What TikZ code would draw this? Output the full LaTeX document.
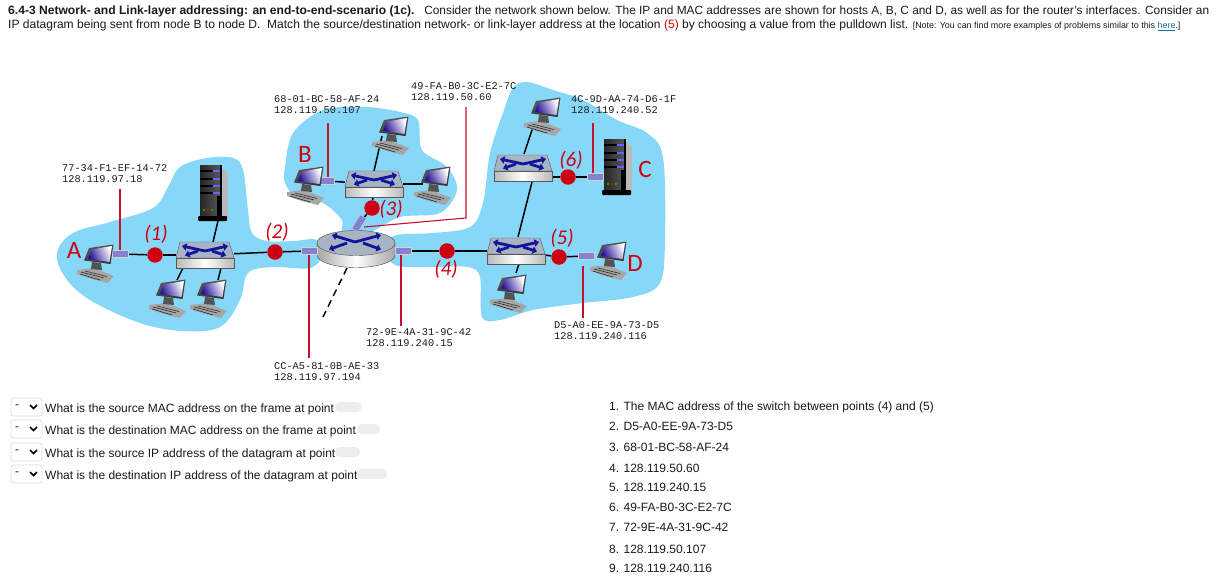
\documentclass[tikz,border=0pt]{standalone}
\usepackage{fontspec}
\setmainfont{Liberation Sans}
\newfontfamily\addrfont{Liberation Mono}
\newfontfamily\calfont{Carlito}
\usetikzlibrary{arrows.meta,calc,shapes.geometric}
\pgfdeclarelayer{bg}
\pgfsetlayers{bg,main}
\definecolor{cloudblue}{HTML}{87D8F8}
\definecolor{navyx}{HTML}{14149A}
\definecolor{redmark}{HTML}{CC0011}
\definecolor{redline}{HTML}{C8102E}
\definecolor{txt}{HTML}{1A1A1A}
\definecolor{linkblue}{HTML}{1A6FA8}
\definecolor{devtop}{HTML}{A8B4C4}
\definecolor{portedge}{HTML}{8282D2}
\tikzset{
  x=1pt,y=-1pt,
  cloud/.style={fill=cloudblue,draw=none},
  hostbox/.style={rectangle,minimum width=34pt,minimum height=36pt,inner sep=0pt},
  switchbox/.style={rectangle,minimum width=58pt,minimum height=26pt,inner sep=0pt},
  routerbox/.style={rectangle,minimum width=78pt,minimum height=37pt,inner sep=0pt},
  serverbox/.style={rectangle,minimum width=28pt,minimum height=56pt,inner sep=0pt},
  portbox/.style={rectangle,minimum width=16pt,minimum height=7pt,inner sep=0pt,top color=portedge,middle color=white,bottom color=portedge,draw=gray!35,line width=.3pt},
  dotmark/.style={circle,fill=redmark,minimum size=15.5pt,inner sep=0pt},
  link/.style={line width=1.5pt,black},
  dashlink/.style={line width=1.5pt,black,dash pattern=on 7pt off 5pt},
  leader/.style={line width=1.1pt,redline},
  addr/.style={font=\addrfont\fontsize{10.3}{10.8}\selectfont,text=txt,align=left,anchor=west,inner sep=0pt},
  ptlabel/.style={font=\calfont\itshape\fontsize{21}{21}\selectfont,text=redmark,inner sep=0pt},
  hostname/.style={font=\calfont\fontsize{25}{25}\selectfont,text=redmark,inner sep=0pt},
  qtext/.style={font=\fontsize{12}{14}\selectfont,text=txt,anchor=base west,inner sep=0pt},
  selbox/.style={rectangle,rounded corners=2.5pt,draw=gray!25,fill=white,line width=.7pt,minimum width=31pt,minimum height=18pt,inner sep=0pt},
  seldash/.style={font=\fontsize{12}{14}\selectfont,text=txt,inner sep=0pt},
  blob/.style={rectangle,rounded corners=5pt,fill=gray!14,draw=none,minimum height=10pt,inner sep=0pt},
  xarrow/.style={navyx,line width=2.8pt,-{Triangle[length=4.5pt,width=7.5pt]}},
  devlaptop/.pic={
    \fill[gray!70] (-18,8)--(-1,6)--(19,14)--(13,21)--(-3,17)--(-18,12)--cycle;
    \draw[gray!30!black,line width=.6pt] (-14,10)--(9,16) (-10,9)--(12,14.5) (-15,12)--(5,18);
    \fill[gray!65!black] (-3,0)--(6,1)--(7,8)--(-4,7)--cycle;
    \shade[left color=gray!70!black,right color=gray!40!black,shading angle=20] (-6,-14)--(18.5,-17.5)--(15.5,2)--(-11,-1.5)--cycle;
    \shade[left color=navyx!85!violet,right color=white,shading angle=115] (-3.5,-12.5)--(17,-16)--(14.5,0)--(-7,-3)--cycle;
  },
  devswitch/.pic={
    \fill[devtop,draw=gray!70!black,line width=.4pt] (-25,-13)--(24,-13)--(29,3)--(-29,3)--cycle;
    \shade[left color=gray!55,right color=gray!55,middle color=white,draw=gray!70!black,line width=.4pt] (-29,3) rectangle (29,13);
    \draw[xarrow] (0,-4)--(-23,-9);
    \draw[xarrow] (0,-4)--(23,-9);
    \draw[xarrow] (-7,-4)--(-20,0.5);
    \draw[xarrow] (7,-4)--(21,0.5);
  },
  devrouter/.pic={
    \shade[left color=gray!70,right color=gray!70,middle color=white,draw=gray!60!black,line width=.4pt] (-39,-6) -- (-39,6) arc[start angle=180,end angle=360,x radius=39pt,y radius=12.5pt] -- (39,-6) -- cycle;
    \fill[devtop,draw=gray!60!black,line width=.4pt] (0,-6) ellipse[x radius=39pt,y radius=12.5pt];
    \draw[xarrow] (-1,-7)--(-24,-14);
    \draw[xarrow] (-1,-7)--(25,-14);
    \draw[xarrow] (-9,-6)--(-27,0.5);
    \draw[xarrow] (7,-6)--(25,0.5);
  },
  devserver/.pic={
    \fill[gray!55] (8,-25)--(15,-20)--(15,24)--(8,26)--cycle;
    \shade[left color=black!85,right color=gray!70!black] (-13,-28) rectangle (8,25);
    \fill[black] (6.5,-28) rectangle (8.5,25);
    \fill[black,rounded corners=1pt] (-15,23) rectangle (14,28);
    \foreach \yy in {-22,-14,-7,0}{
      \fill[black] (-13,\yy-1) rectangle (7,\yy+1);
      \fill[blue!60!white] (0,\yy-1.4) rectangle (7,\yy+1.4);
    }
    \fill[black] (4,3) rectangle (6.5,23);
    \fill[green!70!black] (-9,17) circle[radius=1.4pt];
    \fill[red!90!black] (-5,17) circle[radius=1.4pt];
    \fill[green!70!black] (-1,17) circle[radius=1.4pt];
  },
}
\begin{document}
\begin{tikzpicture}
\useasboundingbox (0,0) rectangle (1229,578);
% ---- devices as named places
\node[hostbox] (hA) at (95,262) {};
\node[hostbox] (hL1) at (167,297) {};
\node[hostbox] (hL2) at (208,297) {};
\node[hostbox] (hB) at (305,184) {};
\node[hostbox] (hUp) at (390,134) {};
\node[hostbox] (hRt) at (432,184) {};
\node[hostbox] (hTop) at (542,115) {};
\node[hostbox] (hLow) at (508,292) {};
\node[hostbox] (hD) at (608,259) {};
\node[switchbox] (sw1) at (205,255) {};
\node[switchbox] (swB) at (374,184) {};
\node[switchbox] (swC) at (523,168) {};
\node[switchbox] (swD) at (516,251) {};
\node[routerbox] (rt) at (356,249) {};
\node[serverbox] (srv1) at (213,193) {};
\node[serverbox] (srvC) at (617,167) {};
% ports
\node[portbox] (pA) at (120,254) {};
\node[portbox,minimum width=14pt] (pB) at (327,181) {};
\node[portbox] (pRL) at (309,251) {};
\node[portbox] (pRR) at (403,251) {};
\node[portbox,rotate=58] (pRT) at (359,223.5) {};
\node[portbox] (pC) at (595,177) {};
\node[portbox] (pD) at (586,256) {};
% dots
\node[dotmark] (d1) at (155,255) {};
\node[dotmark] (d2) at (275,252) {};
\node[dotmark] (d3) at (372,208) {};
\node[dotmark] (d4) at (447,251) {};
\node[dotmark] (d5) at (559,257) {};
\node[dotmark] (d6) at (568,177) {};
% leader ends
\coordinate (la1) at (120,189); \coordinate (la2) at (120,250);
\coordinate (lb1) at (328,123); \coordinate (lb2) at (328,177);
\coordinate (lcc1) at (309,255); \coordinate (lcc2) at (309,358);
\coordinate (lr1) at (401,255); \coordinate (lr2) at (401,326);
\coordinate (ld1) at (583,266); \coordinate (ld2) at (583,318);
\coordinate (lc1) at (593,123); \coordinate (lc2) at (593,173);
\coordinate (lt1) at (466,107); \coordinate (lt2) at (466,218); \coordinate (lt3) at (364,227);
\coordinate (dashend) at (323,317);
\begin{pgfonlayer}{bg}
\fill[white] (0,0) rectangle (1229,578);
% clouds
\fill[cloud] plot[smooth cycle,tension=.6] coordinates {(57,253)(73,233)(110,222)(153,208)(168,187)(180,167)(207,158)(233,158)(243,170)(248,210)(252,233)(267,241)(293,241)(317,240)(322,255)(310,268)(273,267)(248,273)(240,300)(220,327)(183,331)(140,323)(90,300)(65,277)};
\fill[cloud] plot[smooth cycle,tension=.55] coordinates {(285,167)(293,133)(323,110)(365,107)(400,112)(418,120)(422,150)(447,167)(457,190)(440,213)(400,217)(370,232)(343,232)(342,220)(323,203)(297,198)(285,183)};
\fill[cloud] plot[smooth cycle,tension=.55] coordinates {(527,82)(553,90)(583,100)(617,120)(647,133)(663,157)(665,237)(660,283)(633,297)(583,303)(533,310)(500,320)(482,317)(480,277)(468,267)(433,267)(395,265)(385,245)(397,235)(433,233)(470,227)(483,203)(490,153)(503,113)(513,88)};
% connectors
\draw[link] (pA) -- (d1);
\draw[link] (d1) -- (sw1);
\draw[link] (sw1) -- (d2);
\draw[link] (d2) -- (pRL);
\draw[link] (pRR) -- (d4);
\draw[link] (d4) -- (swD);
\draw[link] (swD) -- (d5);
\draw[link] (d5) -- (pD);
\draw[link] (pB) -- (swB);
\draw[link] ($(swB)+(29,0)$) -- ($(hRt)+(-9,0)$);
\draw[link] (swC.east |- d6) -- (d6);
\draw[link] (d6) -- (pC);
\draw[link] ($(sw1)+(8,-13)$) -- ($(srv1)+(5,28)$);
\draw[link] ($(sw1)+(-22,13)$) -- ($(hL1)+(10,-17)$);
\draw[link] ($(sw1)+(16,13)$) -- ($(hL2)+(10,-17)$);
\draw[link] ($(swB)+(0,-13)$) -- ($(hUp)+(-8,2)$);
\draw[link] ($(swB)+(-1,13)$) -- (d3);
\draw[link] (d3) -- (pRT);
\draw[link] ($(swC)+(1,-14)$) -- ($(hTop)+(-9,12)$);
\draw[link] ($(swC)+(9,14)$) -- ($(swD)+(2,-14)$);
\draw[link] ($(swD)+(3,13)$) -- ($(hLow)+(8,-19)$);
\draw[dashlink] ($(rt)+(-9,19)$) -- (dashend);
\end{pgfonlayer}
% devices
\foreach \hh in {hA,hL1,hL2,hB,hUp,hRt,hTop,hLow,hD}{\pic at (\hh) {devlaptop};}
\foreach \ss in {sw1,swB,swC,swD}{\pic at (\ss) {devswitch};}
\pic at (rt) {devrouter};
\foreach \vv in {srv1,srvC}{\pic at (\vv) {devserver};}
\node[portbox] at (pRL) {};
\node[portbox] at (pRR) {};
\node[portbox,rotate=58] at (pRT) {};
% leaders
\draw[leader] (la1)--(la2);
\draw[leader] (lb1)--(lb2);
\draw[leader] (lcc1)--(lcc2);
\draw[leader] (lr1)--(lr2);
\draw[leader] (ld1)--(ld2);
\draw[leader] (lc1)--(lc2);
\draw[leader] (lt1)--(lt2)--(lt3);
% address labels
\node[addr] (aA) at (62,174) {77-34-F1-EF-14-72\\128.119.97.18};
\node[addr] (aB) at (274,105) {68-01-BC-58-AF-24\\128.119.50.107};
\node[addr] (aT) at (411,92) {49-FA-B0-3C-E2-7C\\128.119.50.60};
\node[addr] (aC) at (571,105) {4C-9D-AA-74-D6-1F\\128.119.240.52};
\node[addr] (aR) at (366,338) {72-9E-4A-31-9C-42\\128.119.240.15};
\node[addr] (aD) at (554,331) {D5-A0-EE-9A-73-D5\\128.119.240.116};
\node[addr] (aCC) at (274,372) {CC-A5-81-0B-AE-33\\128.119.97.194};
% red labels
\node[ptlabel] (t1) at (156,234) {(1)};
\node[ptlabel] (t2) at (277,232) {(2)};
\node[ptlabel] (t3) at (391,209) {(3)};
\node[ptlabel] (t4) at (446,269) {(4)};
\node[ptlabel] (t5) at (562,238) {(5)};
\node[ptlabel] (t6) at (571,160) {(6)};
\node[hostname] (nA) at (74,250) {A};
\node[hostname] (nB) at (305,154) {B};
\node[hostname] (nC) at (645,169) {C};
\node[hostname] (nD) at (635,263) {D};
% heading
\node[font=\fontsize{11.87}{14}\selectfont,text=txt,anchor=base west,inner sep=0pt] (title1) at (8,14.5) {{\fontsize{12.09}{14}\selectfont\textbf{6.4-3 Network- and Link-layer addressing: an end-to-end-scenario (1c).}}\ \ \ Consider the network shown below. The IP and MAC addresses are shown for hosts A, B, C and D, as well as for the router's interfaces. Consider an};
\node[font=\fontsize{12.04}{14}\selectfont,text=txt,anchor=base west,inner sep=0pt] (title2) at (8,29) {IP datagram being sent from node B to node D.\ \ Match the source/destination network- or link-layer address at the location {\color{red!85!black}(5)} by choosing a value from the pulldown list. {\fontsize{8.9}{10}\selectfont [Note: You can find more examples of problems similar to this {\color{linkblue}\underline{here}}.]}};
% questions
\foreach \nn/\yy in {qa/407,qb/429,qc/452,qd/474}{
  \node[selbox] (\nn) at (26.5,\yy) {};
  \node[seldash] at (17,\yy) {-};
  \draw[line width=1.6pt,black] (30,\yy-2) -- (33.5,\yy+1.5) -- (37,\yy-2);
}
\node[qtext] (q1) at (45,412) {What is the source MAC address on the frame at point};
\node[qtext] (q2) at (45,434) {What is the destination MAC address on the frame at point};
\node[qtext] (q3) at (45,457) {What is the source IP address of the datagram at point};
\node[qtext] (q4) at (45,479) {What is the destination IP address of the datagram at point};
\node[blob,minimum width=27pt] (b1) at (348.5,407) {};
\node[blob,minimum width=23pt] (b2) at (368.5,429) {};
\node[blob,minimum width=25pt] (b3) at (347.5,452) {};
\node[blob,minimum width=30pt] (b4) at (372,474) {};
% answer list
\node[qtext] (o1) at (609,410) {1. The MAC address of the switch between points (4) and (5)};
\node[qtext] (o2) at (609,430) {2. D5-A0-EE-9A-73-D5};
\node[qtext] (o3) at (609,451) {3. 68-01-BC-58-AF-24};
\node[qtext] (o4) at (609,472) {4. 128.119.50.60};
\node[qtext] (o5) at (609,491) {5. 128.119.240.15};
\node[qtext] (o6) at (609,511) {6. 49-FA-B0-3C-E2-7C};
\node[qtext] (o7) at (609,531) {7. 72-9E-4A-31-9C-42};
\node[qtext] (o8) at (609,553) {8. 128.119.50.107};
\node[qtext] (o9) at (609,572) {9. 128.119.240.116};
\end{tikzpicture}
\end{document}
